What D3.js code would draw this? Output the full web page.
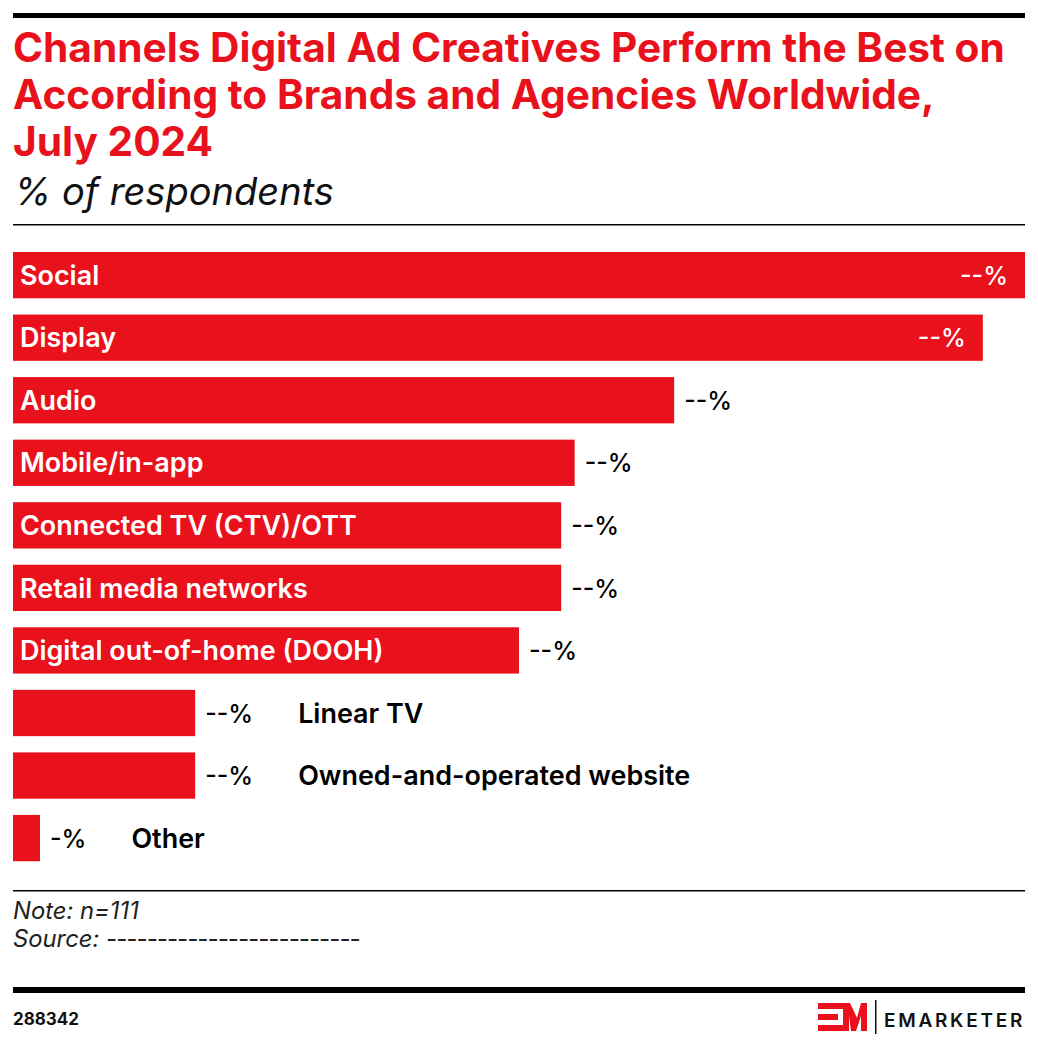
<!DOCTYPE html>
<html>
<head>
<meta charset="utf-8">
<script src="https://cdn.jsdelivr.net/npm/d3@7"></script>
<style>
  html, body { margin: 0; padding: 0; background: #fff; }
  svg { display: block; }
  text { font-family: Inter, "Noto Sans", sans-serif; }
</style>
</head>
<body>
<svg id="chart" width="1038" height="1047"></svg>
<script>
// ---- data ----
const categories = ["Social", "Display", "Audio", "Mobile/in-app", "Connected TV (CTV)/OTT",
  "Retail media networks", "Digital out-of-home (DOOH)", "Linear TV", "Owned-and-operated website", "Other"];
const values = [60, 57.5, 39.2, 33.3, 32.5, 32.5, 30.0, 10.8, 10.8, 1.6];
const valueLabels = ["--%", "--%", "--%", "--%", "--%", "--%", "--%", "--%", "--%", "-%"];
const titleLines = ["Channels Digital Ad Creatives Perform the Best on",
  "According to Brands and Agencies Worldwide,", "July 2024"];
const subtitle = "% of respondents";
const noteText = "Note: n=111";
const sourceLabel = "Source: ";
const sourceDashes = "-------------------------";
const chartId = "288342";

const RED = "#e9111c";
const svg = d3.select("#chart");
const L = 13, R = 1025;

// fit a font size so text has a target width
function measure(str, size, weight, style) {
  const t = svg.append("text").attr("font-size", size).attr("font-weight", weight)
    .attr("font-style", style).text(str);
  const w = t.node().getComputedTextLength();
  t.remove();
  return w;
}
function fitSize(str, weight, style, target, base) {
  return base * target / measure(str, base, weight, style);
}

// top rule
svg.append("rect").attr("x", L).attr("y", 13).attr("width", R - L).attr("height", 5).attr("fill", "#000");

// title
const titleSize = fitSize(titleLines[0], 700, "normal", 992, 36);
const titleBase = [62, 109, 156];
titleLines.forEach((s, i) => {
  svg.append("text").attr("x", L).attr("y", titleBase[i]).attr("font-size", titleSize)
    .attr("font-weight", 700).attr("fill", RED).text(s);
});
const subSize = fitSize(subtitle, 400, "italic", 320, 34);
svg.append("text").attr("x", 14).attr("y", 205).attr("font-size", subSize)
  .attr("font-style", "italic").attr("fill", "#111").text(subtitle);
svg.append("rect").attr("x", L).attr("y", 224).attr("width", R - L).attr("height", 1.5).attr("fill", "#000");

// scales
const step = 62.55, pIn = 0.26;
const x = d3.scaleLinear().domain([0, 60]).range([L, R]);
const y = d3.scaleBand().domain(categories)
  .range([252, 252 + step * (categories.length - pIn)]).paddingInner(pIn).paddingOuter(0);

const labSize = fitSize("Connected TV (CTV)/OTT", 600, "normal", 337, 26);
const valSize = fitSize("--%", 500, "normal", 48, 26);

const g = svg.append("g");
g.selectAll("rect.bar").data(categories).join("rect").attr("class", "bar")
  .attr("x", x(0)).attr("y", d => y(d)).attr("height", y.bandwidth())
  .attr("width", (d, i) => x(values[i]) - x(0)).attr("fill", RED);

const inside = (i) => i < 2;
const nameInside = (i) => i < 7;

categories.forEach((c, i) => {
  const yc = y(c) + y.bandwidth() / 2 + labSize * 0.36;
  const end = x(values[i]);
  const vt = g.append("text").attr("y", yc).attr("font-size", valSize).attr("font-weight", 500)
    .text(valueLabels[i]);
  if (inside(i)) {
    vt.attr("x", end - 17).attr("text-anchor", "end").attr("fill", "#fff");
  } else {
    vt.attr("x", end + 10).attr("fill", "#000");
  }
  const nt = g.append("text").attr("y", yc).attr("font-size", labSize).attr("font-weight", 600).text(c);
  if (nameInside(i)) {
    nt.attr("x", 20).attr("fill", "#fff");
  } else {
    const vw = vt.node().getComputedTextLength();
    nt.attr("x", end + 10 + vw + 45).attr("fill", "#000");
  }
});

// footer
svg.append("rect").attr("x", L).attr("y", 890).attr("width", R - L).attr("height", 1.5).attr("fill", "#000");
const noteSize = fitSize(noteText, 400, "italic", 126, 20);
svg.append("text").attr("x", 13).attr("y", 919).attr("font-size", noteSize).attr("font-style", "italic")
  .attr("fill", "#222").text(noteText);
const srcT = svg.append("text").attr("x", 13).attr("y", 947).attr("font-size", noteSize)
  .attr("font-style", "italic").attr("fill", "#222");
srcT.append("tspan").text(sourceLabel);
const labW = measure(sourceLabel, noteSize, 400, "italic");
const dashW = measure(sourceDashes, noteSize, 400, "italic");
const dashTarget = 353 - 13 - labW;
srcT.append("tspan").attr("letter-spacing", (dashTarget - dashW) / sourceDashes.length).text(sourceDashes);

svg.append("rect").attr("x", L).attr("y", 987).attr("width", R - L).attr("height", 6).attr("fill", "#000");
svg.append("text").attr("x", 13).attr("y", 1025).attr("font-size", 17).attr("font-weight", 700)
  .attr("fill", "#111").text(chartId);

// logo
const lg = svg.append("g");
lg.append("rect").attr("x", 818).attr("y", 1003).attr("width", 25).attr("height", 6).attr("fill", RED);
lg.append("rect").attr("x", 818).attr("y", 1014).attr("width", 20).attr("height", 6).attr("fill", RED);
lg.append("rect").attr("x", 818).attr("y", 1025).attr("width", 25).attr("height", 6).attr("fill", RED);
lg.append("path").attr("fill", RED)
  .attr("d", "M843,1031 L843,1003 L850,1003 L857,1018 L861,1003 L867,1003 L867,1031 L861,1031 L861,1016 L856,1031 L851,1031 L849,1016 L849,1031 Z");
lg.append("rect").attr("x", 875).attr("y", 1000).attr("width", 1.5).attr("height", 34).attr("fill", "#111");
const et = lg.append("text").attr("x", 884).attr("y", 1027).attr("font-size", 19).attr("font-weight", 600)
  .attr("fill", "#111").text("EMARKETER");
const ew = et.node().getComputedTextLength();
et.attr("letter-spacing", (141 - ew) / 9);
</script>
</body>
</html>
